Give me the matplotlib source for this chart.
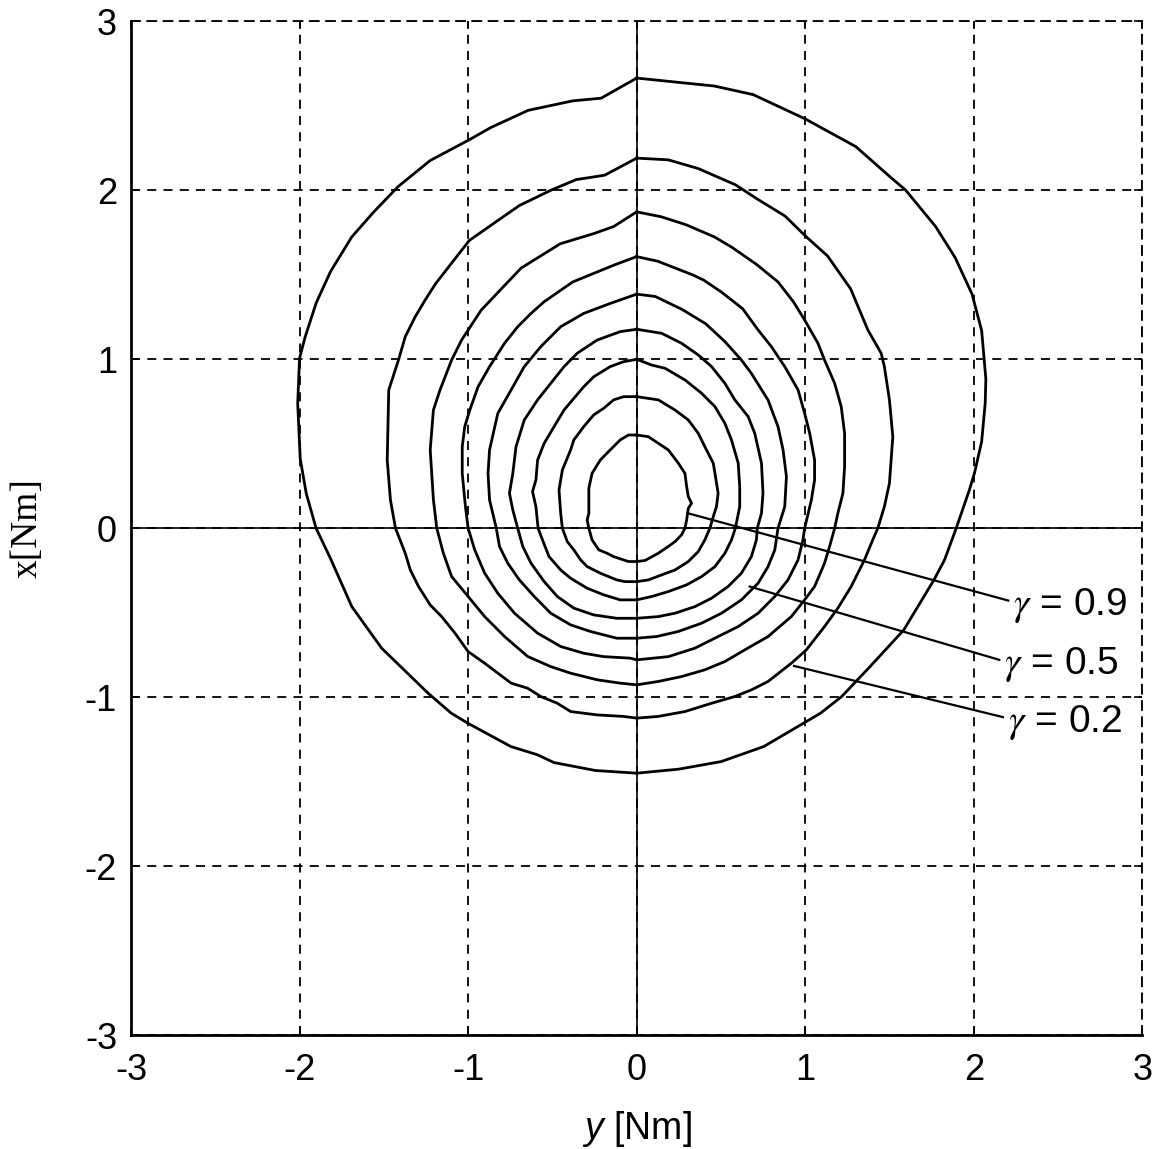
import matplotlib
matplotlib.use("Agg")
from matplotlib import pyplot as plt

plt.rcParams['font.family'] = ['Liberation Sans', 'DejaVu Sans']
plt.rcParams['axes.unicode_minus'] = False
plt.rcParams['mathtext.fontset'] = 'custom'
plt.rcParams['mathtext.it'] = 'Liberation Sans:italic'
plt.rcParams['mathtext.rm'] = 'Liberation Sans'

ticks = [-3, -2, -1, 0, 1, 2, 3]

# contours, clockwise from the top point (horizontal = y [Nm], vertical = x [Nm])
c1_y = [0, 0.069, 0.128, 0.187, 0.247, 0.286, 0.296, 0.306, 0.325, 0.306, 0.296, 0.286,
        0.266, 0.227, 0.187, 0.128, 0.049, 0,
        -0.049, -0.137, -0.176, -0.225, -0.265, -0.284,
        -0.294, -0.284, -0.284, -0.265, -0.216, -0.157, -0.098, -0.049, 0]
c1_x = [0.552, 0.542, 0.503, 0.464, 0.385, 0.325, 0.247, 0.187, 0.148, 0.118, 0.049, 0,
        -0.039, -0.079, -0.108, -0.148, -0.191, -0.197,
        -0.197, -0.168, -0.148, -0.128, -0.069, 0,
        0.049, 0.089, 0.237, 0.325, 0.404, 0.464, 0.523, 0.552, 0.552]

c2_y = [0, 0.128, 0.227, 0.306, 0.365, 0.404, 0.454, 0.464, 0.483, 0.473, 0.454, 0.434,
        0.404, 0.365, 0.306, 0.227, 0.148, 0.069, 0,
        -0.069, -0.118, -0.216, -0.294, -0.333, -0.373, -0.412, -0.441,
        -0.451, -0.461, -0.441, -0.392, -0.373, -0.314, -0.255, -0.196, -0.137, -0.078, 0]
c2_x = [0.779, 0.760, 0.700, 0.641, 0.562, 0.483, 0.385, 0.325, 0.207, 0.128, 0.069, 0,
        -0.069, -0.138, -0.197, -0.247, -0.276, -0.306, -0.316,
        -0.316, -0.306, -0.266, -0.227, -0.187, -0.128, -0.079, 0,
        0.089, 0.227, 0.345, 0.464, 0.523, 0.602, 0.671, 0.710, 0.760, 0.779, 0.779]

c3_y = [0, 0.089, 0.168, 0.286, 0.385, 0.464, 0.523, 0.562, 0.602, 0.611, 0.611, 0.585,
        0.562, 0.523, 0.464, 0.385, 0.296, 0.187, 0.089, 0,
        -0.098, -0.196, -0.294, -0.392, -0.451, -0.520, -0.559, -0.585,
        -0.598, -0.618, -0.598, -0.588, -0.549, -0.490, -0.431, -0.373, -0.314, -0.255,
        -0.157, -0.078, 0]
c3_x = [1.0, 0.966, 0.947, 0.878, 0.799, 0.720, 0.621, 0.523, 0.385, 0.247, 0.128, 0,
        -0.069, -0.148, -0.227, -0.286, -0.335, -0.375, -0.404, -0.424,
        -0.424, -0.394, -0.355, -0.296, -0.247, -0.168, -0.069, 0,
        0.128, 0.217, 0.286, 0.404, 0.503, 0.602, 0.700, 0.769, 0.838, 0.897,
        0.957, 0.986, 1.0]

c4_y = [0, 0.148, 0.266, 0.365, 0.444, 0.523, 0.582, 0.661, 0.700, 0.740, 0.749, 0.740, 0.715,
        0.710, 0.680, 0.621, 0.542, 0.444, 0.345, 0.227, 0.128, 0,
        -0.118, -0.255, -0.373, -0.471, -0.549, -0.627, -0.676, -0.706,
        -0.735, -0.755, -0.735, -0.716, -0.667, -0.588, -0.510, -0.431, -0.353, -0.235,
        -0.098, 0]
c4_x = [1.178, 1.154, 1.095, 1.026, 0.957, 0.858, 0.760, 0.661, 0.562, 0.385, 0.207, 0.089, 0,
        -0.069, -0.168, -0.266, -0.345, -0.414, -0.464, -0.503, -0.523, -0.533,
        -0.533, -0.513, -0.473, -0.404, -0.316, -0.207, -0.108, 0,
        0.108, 0.207, 0.325, 0.483, 0.641, 0.760, 0.858, 0.957, 1.036, 1.114,
        1.164, 1.178]

c5_y = [0, 0.110, 0.270, 0.410, 0.523, 0.621, 0.680, 0.779, 0.838, 0.868, 0.888, 0.878, 0.838,
        0.819, 0.779, 0.720, 0.621, 0.503, 0.385, 0.247, 0.118, 0,
        -0.118, -0.275, -0.392, -0.510, -0.608, -0.696, -0.765, -0.814, -0.833,
        -0.873, -0.882, -0.873, -0.824, -0.745, -0.667, -0.569, -0.451, -0.314, -0.157, 0]
c5_x = [1.386, 1.372, 1.295, 1.210, 1.105, 0.996, 0.917, 0.759, 0.602, 0.464, 0.306, 0.128, 0,
        -0.128, -0.227, -0.325, -0.424, -0.503, -0.562, -0.611, -0.641, -0.651,
        -0.651, -0.611, -0.572, -0.503, -0.404, -0.306, -0.207, -0.108, 0,
        0.168, 0.325, 0.464, 0.680, 0.819, 0.957, 1.075, 1.193, 1.272, 1.331, 1.386]

c6_y = [0, 0.124, 0.334, 0.397, 0.500, 0.628, 0.720, 0.799, 0.878, 0.957, 0.996, 1.026, 1.055,
        1.055, 1.036, 0.996,
        0.986, 0.957, 0.897, 0.819, 0.720, 0.602, 0.483, 0.345, 0.187, 0,
        -0.039, -0.196, -0.314, -0.451, -0.588, -0.725, -0.824, -0.902, -0.961, -1.0,
        -1.016, -1.035, -1.035, -1.020, -0.990, -0.941, -0.873, -0.784, -0.706, -0.627,
        -0.549, -0.380, -0.127, 0]
c6_x = [1.608, 1.581, 1.499, 1.469, 1.400, 1.300, 1.174, 1.075, 0.957, 0.819, 0.680, 0.562, 0.404,
        0.286, 0.168, 0,
        -0.069, -0.187, -0.306, -0.404, -0.503, -0.582, -0.641, -0.710, -0.760, -0.779,
        -0.769, -0.760, -0.740, -0.700, -0.621, -0.503, -0.385, -0.266, -0.128, 0,
        0.128, 0.325, 0.483, 0.602, 0.700, 0.838, 0.957, 1.095, 1.193, 1.272,
        1.341, 1.458, 1.561, 1.608]

c7_y = [0, 0.145, 0.292, 0.460, 0.565, 0.712, 0.838, 0.930, 0.996, 1.075, 1.114, 1.174, 1.213,
        1.233, 1.233, 1.223, 1.193, 1.174,
        1.144, 1.114, 1.055, 0.996, 0.917, 0.779, 0.641, 0.523, 0.404, 0.266, 0.128, 0,
        -0.098, -0.235, -0.392, -0.510, -0.647, -0.784, -0.902, -1.0, -1.098, -1.147, -1.186,
        -1.206, -1.225, -1.206, -1.167, -1.098, -1.039, -0.922, -0.686, -0.454, -0.253,
        -0.137, 0]
c7_x = [1.873, 1.844, 1.797, 1.725, 1.663, 1.561, 1.458, 1.340, 1.233, 1.095, 0.996, 0.858, 0.720,
        0.562, 0.365, 0.207, 0.089, 0,
        -0.108, -0.207, -0.345, -0.424, -0.523, -0.641, -0.720, -0.789, -0.838, -0.878, -0.907, -0.927,
        -0.917, -0.897, -0.858, -0.819, -0.759, -0.641, -0.523, -0.404, -0.286, -0.148, 0,
        0.168, 0.464, 0.700, 0.818, 0.996, 1.114, 1.292, 1.540, 1.684, 1.745,
        1.786, 1.873]

c8_y = [0, 0.187, 0.366, 0.586, 0.712, 0.880, 1.006, 1.132, 1.269, 1.371, 1.450, 1.469, 1.499,
        1.519, 1.509, 1.499, 1.469, 1.430,
        1.400, 1.351, 1.272, 1.193, 1.114, 1.006, 0.917, 0.779, 0.680, 0.582, 0.444, 0.286,
        0.128, 0,
        -0.078, -0.235, -0.392, -0.471, -0.569, -0.647, -0.745, -0.902, -1.0, -1.078, -1.157,
        -1.225, -1.294, -1.343, -1.373, -1.431,
        -1.461, -1.480, -1.471, -1.412, -1.373, -1.314, -1.255, -1.193, -0.993, -0.697,
        -0.507, -0.359, -0.190, 0]
c8_x = [2.191, 2.181, 2.129, 2.033, 1.951, 1.848, 1.725, 1.612, 1.417, 1.174, 1.036, 0.957, 0.760,
        0.542, 0.404, 0.266, 0.128, 0,
        -0.069, -0.187, -0.345, -0.473, -0.582, -0.720, -0.799, -0.907, -0.957, -0.996, -1.036, -1.085,
        -1.114, -1.124,
        -1.114, -1.105, -1.085, -1.036, -0.996, -0.947, -0.917, -0.799, -0.730, -0.621, -0.523,
        -0.454, -0.345, -0.247, -0.148, 0,
        0.168, 0.404, 0.818, 1.0, 1.134, 1.252, 1.351, 1.448, 1.704, 1.910,
        2.002, 2.064, 2.090, 2.191]

c9_y = [0, 0.46, 0.691, 1.0, 1.30, 1.51, 1.595, 1.773, 1.889, 1.989, 2.046, 2.071, 2.067, 2.046,
        2.004, 1.973, 1.895,
        1.826, 1.763, 1.584, 1.384, 1.216, 1.090, 0.754, 0.502, 0.250, 0,
        -0.246, -0.491, -0.589, -0.747, -1.002, -1.100, -1.238, -1.513, -1.690, -1.817, -1.902,
        -1.96, -1.996, -2.011, -2.0, -1.968, -1.901, -1.816, -1.690, -1.563, -1.415, -1.225,
        -0.993, -0.866, -0.644, -0.380, -0.211, 0]
c9_x = [2.665, 2.618, 2.567, 2.423, 2.259, 2.074, 2.002, 1.786, 1.602, 1.386, 1.170, 0.883, 0.739, 0.513,
        0.329, 0.226, 0,
        -0.187, -0.306, -0.602, -0.819, -0.996, -1.095, -1.292, -1.381, -1.426, -1.450,
        -1.434, -1.387, -1.341, -1.292, -1.154, -1.095, -0.976, -0.710, -0.464, -0.178, 0,
        0.205, 0.411, 0.739, 1.006, 1.129, 1.335, 1.520, 1.725, 1.869, 2.023, 2.177,
        2.300, 2.372, 2.474, 2.530, 2.546, 2.665]

curves = [(c1_y, c1_x), (c2_y, c2_x), (c3_y, c3_x), (c4_y, c4_x), (c5_y, c5_x),
          (c6_y, c6_x), (c7_y, c7_x), (c8_y, c8_x), (c9_y, c9_x)]

# labels: (text, start of leader on curve, end of leader)
gamma_labels = ['0.9', '0.5', '0.2']
leader_start = [(0.303, 0.089), (0.670, -0.345), (0.933, -0.815)]
leader_end = [(2.204, -0.428), (2.151, -0.779), (2.172, -1.118)]

fig = plt.figure(figsize=(11.58, 11.49), dpi=100)
ax = fig.add_axes([0.1131, 0.0992, 0.8735, 0.8821])

ax.set_xlim(-3, 3)
ax.set_ylim(-3, 3)
ax.set_xticks(ticks)
ax.set_yticks(ticks)
ax.grid(True, color='black', linestyle=(0, (5, 4)), linewidth=1.3)
ax.set_axisbelow(True)
ax.axhline(0, color='black', lw=1.2, zorder=2)
ax.axvline(0, color='black', lw=1.2, zorder=2)

for cy_, cx_ in curves:
    ax.plot(cy_, cx_, color='black', lw=2.0, zorder=3)

for lab, (sx, sy), (ex, ey) in zip(gamma_labels, leader_start, leader_end):
    ax.plot([sx, ex], [sy, ey], color='black', lw=1.6, zorder=3)
    ax.text(ex + 0.03, ey - 0.03, r'$\gamma$ = ' + lab, fontsize=28,
            ha='left', va='center', math_fontfamily='stix', zorder=4)

for side in ['left', 'bottom']:
    ax.spines[side].set_linewidth(2.0)
for side in ['top', 'right']:
    ax.spines[side].set_linewidth(1.3)
    ax.spines[side].set_linestyle((0, (5, 4)))

ax.tick_params(direction='in', length=6, width=1.2, labelsize=26, pad=10,
               top=True, right=True)
ax.tick_params(axis='x', pad=13)

ax.set_xlabel(r'$y$ [Nm]', fontsize=27)
ax.set_ylabel('x[Nm]', fontsize=27, family='Liberation Serif')
ax.xaxis.set_label_coords(0.5, -0.073)
ax.yaxis.set_label_coords(-0.085, 0.5)

fig.savefig('out.png', dpi=100)
